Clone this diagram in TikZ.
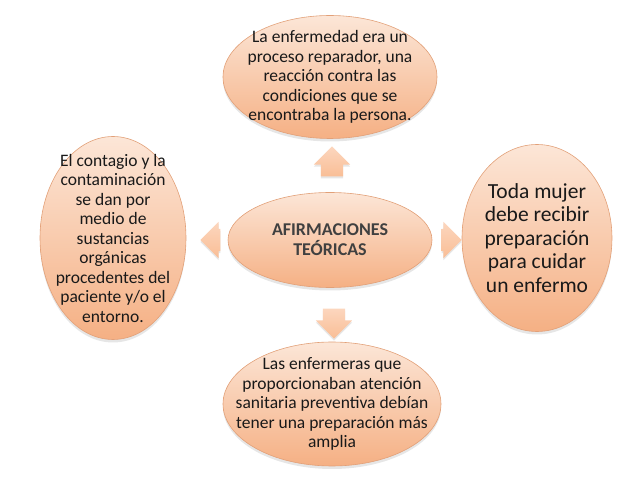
\documentclass[tikz,border=0pt]{standalone}
\usepackage{fontspec}
\setmainfont{Carlito}
\usetikzlibrary{shapes.geometric,shapes.arrows,shadows}
\definecolor{peachtop}{RGB}{252,230,215}
\definecolor{peachbot}{RGB}{245,176,132}
\definecolor{peachline}{RGB}{226,160,120}
\definecolor{arrowtop}{RGB}{252,214,190}
\definecolor{arrowbot}{RGB}{249,190,150}
\definecolor{txtgray}{RGB}{64,64,64}
\begin{document}
\begin{tikzpicture}[x=1pt,y=-1pt,
	bubble/.style={ellipse,draw=peachline,line width=.6pt,top color=peachtop,bottom color=peachbot,
		drop shadow={opacity=.2,shadow xshift=0pt,shadow yshift=-3pt},inner sep=0pt},
	txt/.style={align=center,font=\fontsize{17.5}{19.5}\selectfont,text=black!90},
	blockarrow/.style={single arrow,draw=none,top color=arrowtop,bottom color=arrowbot,
		inner xsep=0pt,inner ysep=11pt,single arrow head extend=7pt,
		drop shadow={opacity=.2,shadow xshift=0pt,shadow yshift=-2pt}}]
	\useasboundingbox (0,0) rectangle (638,478);
	% \fill[white] (0,0) rectangle (638,478);
	\node[bubble,minimum width=204,minimum height=95] (mid) at (330,240){};
	\node[bubble,minimum width=214,minimum height=123] (top) at (330,77){};
	\node[bubble,minimum width=146,minimum height=203] (left) at (113,238){};
	\node[bubble,minimum width=150,minimum height=187] (right) at (537,238){};
	\node[bubble,minimum width=218,minimum height=124] (bot) at (332,404){};
	\node[txt,font=\fontsize{18}{20}\selectfont\bfseries,text=txtgray] (midtxt) at (mid){AFIRMACIONES\\TEÓRICAS};
	\node[txt] (toptxt) at (top){La enfermedad era un\\proceso reparador, una\\reacción contra las\\condiciones que se\\encontraba la persona.};
	\node[txt] (lefttxt) at (left){El contagio y la\\contaminación\\se dan por\\medio de\\sustancias\\orgánicas\\procedentes del\\paciente y/o el\\entorno.};
	\node[txt,font=\fontsize{21.5}{23.5}\selectfont] (righttxt) at (right){Toda mujer\\debe recibir\\preparación\\para cuidar\\un enfermo};
	\node[txt] (bottxt) at (bot){Las enfermeras que\\proporcionaban atención\\sanitaria preventiva debían\\tener una preparación más\\amplia};
	\node[blockarrow,minimum height=30,rotate=90] (up) at (332,167){};
	\node[blockarrow,minimum height=30,rotate=-90] (down) at (334,318){};
	\node[blockarrow,minimum height=20,rotate=180] (west) at (216,240){};
	\node[blockarrow,minimum height=20] (east) at (446,240){};
\end{tikzpicture}
\end{document}
